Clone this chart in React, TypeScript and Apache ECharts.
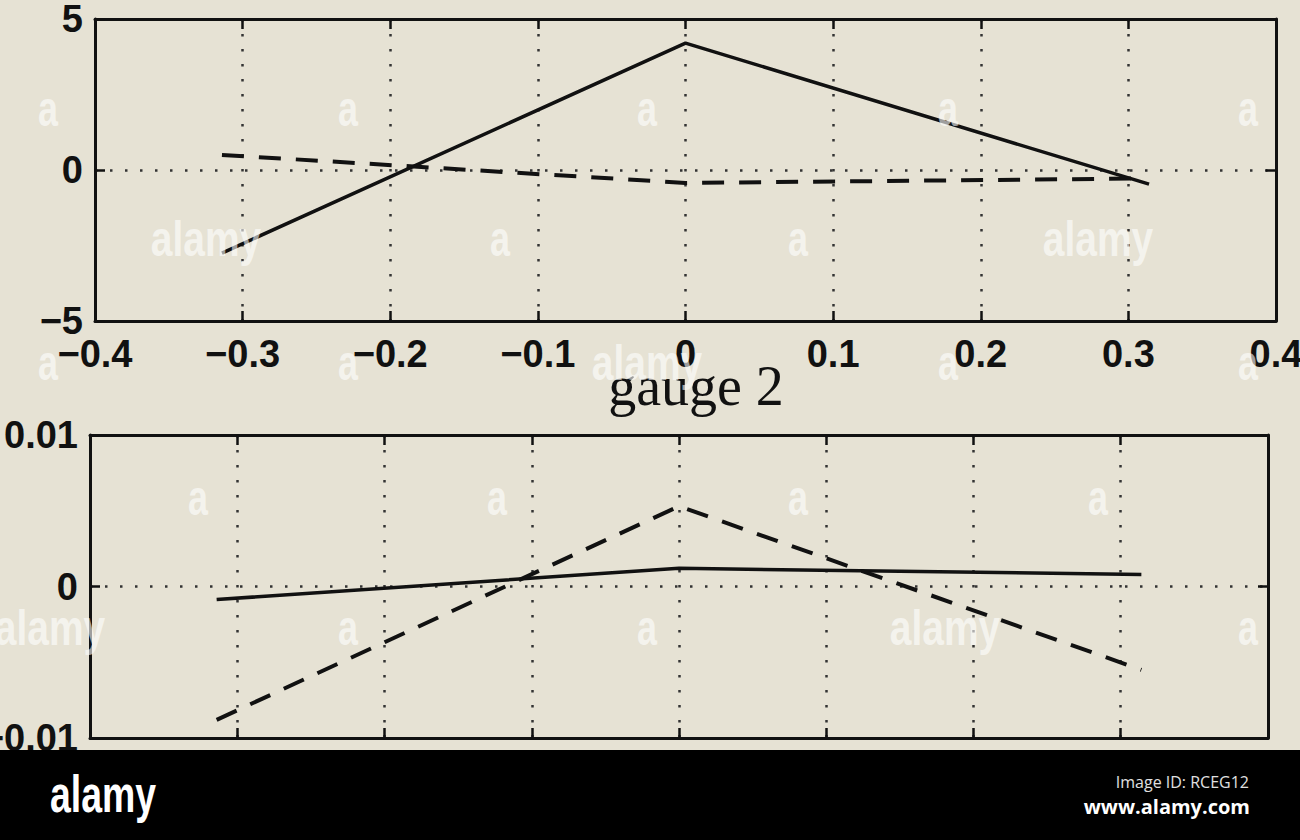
import React, { useEffect, useRef } from "react";
import * as echarts from "echarts";

// ---- data ----
const gaugeX = [-0.314, 0, 0.314];
const topSolid = [-2.75, 4.2, -0.47];
const topDashedX = [-0.314, 0, 0.31];
const topDashed = [0.5, -0.43, -0.28];
const bottomSolid = [-0.00086, 0.0012, 0.0008];
const bottomDashed = [-0.0088, 0.0053, -0.0055];
const xRange = [-0.4, 0.4];
const xStep = 0.1;
const topYRange = [-5, 5];
const topYStep = 5;
const bottomYRange = [-0.01, 0.01];
const bottomYStep = 0.01;
const titleText = "gauge 2";
const logoText = "alamy";
const imageIdText = "Image ID: RCEG12";
const siteText = "www.alamy.com";

const MINUS = "\u2212";
const fmtX = (v: number) => (Math.abs(v) < 1e-9 ? "0" : v.toFixed(1).replace("-", MINUS));
const fmtTopY = (v: number) => (Math.abs(v) < 1e-9 ? "0" : String(Math.round(v)).replace("-", MINUS));
const fmtBotY = (v: number) => (Math.abs(v) < 1e-12 ? "0" : v.toFixed(2).replace("-", MINUS));

const BG = "#e6e2d4";
const INK = "#111";
const labelFont = { fontFamily: "Liberation Sans", fontWeight: "bold" as const, fontSize: 38, color: INK };
const dotted = { show: true, lineStyle: { color: "#333", width: 2.5, type: [2.5, 12.5] as number[] } };
const axisLine = { show: true, onZero: false, lineStyle: { color: INK, width: 3 } };
const tick = { show: true, inside: true, length: 10, lineStyle: { color: INK, width: 2.5 } };

function xAxes(gridIndex: number, showLabels: boolean) {
  const base = { type: "value" as const, gridIndex, min: xRange[0], max: xRange[1], interval: xStep, axisLine, axisTick: tick };
  return [
    { ...base, position: "bottom", splitLine: dotted, axisLabel: { show: showLabels, margin: 14, formatter: fmtX, ...labelFont } },
    { ...base, position: "top", splitLine: { show: false }, axisLabel: { show: false } },
  ];
}
function yAxes(gridIndex: number, range: number[], step: number, fmt: (v: number) => string) {
  const base = { type: "value" as const, gridIndex, min: range[0], max: range[1], interval: step, axisLine, axisTick: tick };
  return [
    { ...base, position: "left", splitLine: dotted, axisLabel: { show: true, margin: 12, formatter: fmt, ...labelFont } },
    { ...base, position: "right", splitLine: { show: false }, axisLabel: { show: false } },
  ];
}

const pairs = (xs: number[], ys: number[]) => xs.map((x, i) => [x, ys[i]]);

// watermark layout (decoration)
const wmA = [
  [48, 113], [348, 113], [647, 113], [948, 113], [1248, 113],
  [500, 243], [798, 243],
  [48, 367], [348, 367], [948, 367], [1248, 367],
  [198, 502], [497, 502], [798, 502], [1098, 502],
  [348, 632], [647, 632], [1248, 632],
];
const wmWord = [[206, 243], [1098, 243], [647, 367], [50, 632], [945, 632]];

export default function App() {
  const ref = useRef<HTMLDivElement>(null);
  useEffect(() => {
    if (!ref.current) return;
    const chart = echarts.init(ref.current, null, { renderer: "svg" });
    const wmStyle = (text: string) => ({
      text,
      fill: "rgba(255,255,255,0.6)",
      font: "bold 50px 'Liberation Sans'",
      align: "center",
      verticalAlign: "middle",
    });
    const graphic: any[] = [];
    wmA.forEach(([x, y]) => graphic.push({ type: "text", x, y: y - 4, scaleX: 0.72, z: 50, style: wmStyle("a"), silent: true }));
    wmWord.forEach(([x, y]) => graphic.push({ type: "text", x, y: y - 4, scaleX: 0.78, z: 50, style: wmStyle("alamy"), silent: true }));
    graphic.push({
      type: "text", x: 696, y: 386, z: 40,
      style: { text: titleText, fill: INK, font: "56px 'Liberation Serif'", align: "center", verticalAlign: "middle" },
    });
    graphic.push({ type: "rect", z: 100, shape: { x: 0, y: 750, width: 1300, height: 90 }, style: { fill: "#000" } });
    graphic.push({
      type: "text", x: 50, y: 794, scaleX: 0.72, z: 101,
      style: { text: logoText, fill: "#fff", font: "bold 52px 'Liberation Sans'", align: "left", verticalAlign: "middle" },
    });
    graphic.push({
      type: "text", x: 1249, y: 782, z: 101,
      style: { text: imageIdText, fill: "#e0e0e0", font: "16px 'Open Sans'", align: "right", verticalAlign: "middle" },
    });
    graphic.push({
      type: "text", x: 1250, y: 806, z: 101,
      style: { text: siteText, fill: "#fff", font: "bold 20px 'Open Sans'", align: "right", verticalAlign: "middle" },
    });

    const lineBase = { type: "line" as const, symbol: "none", showSymbol: false, silent: true };
    chart.setOption({
      animation: false,
      backgroundColor: BG,
      grid: [
        { left: 95, right: 24, top: 19, height: 302, outerBoundsMode: "none", containLabel: false },
        { left: 90, right: 32, top: 435, height: 303, outerBoundsMode: "none", containLabel: false },
      ],
      xAxis: [...xAxes(0, true), ...xAxes(1, false)],
      yAxis: [...yAxes(0, topYRange, topYStep, fmtTopY), ...yAxes(1, bottomYRange, bottomYStep, fmtBotY)],
      series: [
        { ...lineBase, name: "top solid", xAxisIndex: 0, yAxisIndex: 0, data: pairs(gaugeX, topSolid), lineStyle: { color: INK, width: 3.5 } },
        { ...lineBase, name: "top dashed", xAxisIndex: 0, yAxisIndex: 0, data: pairs(topDashedX, topDashed), lineStyle: { color: INK, width: 4, type: [22, 15] } },
        { ...lineBase, name: "gauge 2 solid", xAxisIndex: 2, yAxisIndex: 2, data: pairs(gaugeX, bottomSolid), lineStyle: { color: INK, width: 3.5 } },
        { ...lineBase, name: "gauge 2 dashed", xAxisIndex: 2, yAxisIndex: 2, data: pairs(gaugeX, bottomDashed), lineStyle: { color: INK, width: 4, type: [22, 15] } },
      ],
      graphic,
    });
    return () => chart.dispose();
  }, []);
  return <div ref={ref} style={{ position: "absolute", left: 0, top: 0, width: 1300, height: 840 }} />;
}
